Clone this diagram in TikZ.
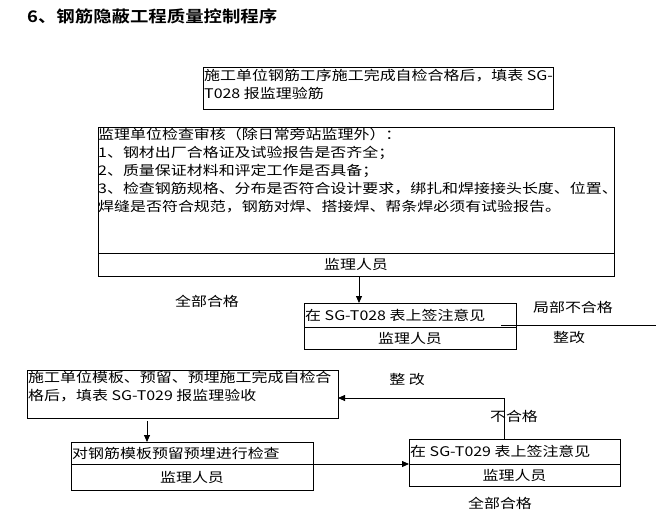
\documentclass[tikz,border=0pt]{standalone}
\usepackage{fontspec}
\setmainfont{Noto Sans CJK SC}[FakeStretch=1.2]
\newfontfamily\titlefont{Noto Sans CJK SC Bold}[FakeStretch=1.15]
\usetikzlibrary{arrows.meta}
\begin{document}
\begin{tikzpicture}[x=1pt,y=-1pt,
  box/.style={draw,line width=0.9pt,anchor=north west,inner sep=0pt,outer sep=0pt},
  txt/.style={anchor=north west,inner sep=0pt,align=left,font=\fontsize{13.3}{18}\selectfont},
  lbl/.style={inner sep=0pt,font=\fontsize{13.3}{18}\selectfont},
  arr/.style={line width=0.8pt,-{Triangle[length=7pt,width=6pt]}},
  ln/.style={line width=0.8pt}]
\useasboundingbox (0,0) rectangle (656,517);
\node[anchor=west,inner sep=0pt,font=\titlefont\fontsize{16}{18}\selectfont] (title) at (27,16) {6、钢筋隐蔽工程质量控制程序};
% box1
\node[box,minimum width=350,minimum height=42] (b1) at (203,67) {};
\node[txt] (b1t) at (204,69) {施工单位钢筋工序施工完成自检合格后，填表 SG-\\T028 报监理验筋};
% box2
\node[box,minimum width=516,minimum height=126] (b2) at (98,127) {};
\node[box,minimum width=516,minimum height=23] (b2b) at (98,253) {};
\node[txt] (b2t) at (98,128) {监理单位检查审核（除日常旁站监理外）：\\1、钢材出厂合格证及试验报告是否齐全；\\2、质量保证材料和评定工作是否具备；\\3、检查钢筋规格、分布是否符合设计要求，绑扎和焊接接头长度、位置、\\焊缝是否符合规范，钢筋对焊、搭接焊、帮条焊必须有试验报告。};
\node[lbl] (b2l) at (b2b.center) {监理人员};
% box3
\node[box,minimum width=212,minimum height=24] (b3) at (304,303) {};
\node[box,minimum width=212,minimum height=22] (b3b) at (304,327) {};
\node[lbl,anchor=west] (b3t) at (305,315) {在 SG-T028 表上签注意见};
\node[lbl] (b3l) at (b3b.center) {监理人员};
\draw[arr] (b2b.south -| 359,0) -- (b3.north -| 359,0);
\node[lbl] (q1) at (207,301) {全部合格};
\node[lbl] (q2) at (573,307) {局部不合格};
\node[lbl] (q3) at (569,337) {整改};
\coordinate (l1) at (501,325);
\coordinate (l2) at (656,325);
\draw[ln] (l1) -- (l2);
% box4
\node[box,minimum width=311,minimum height=48] (b4) at (27,370) {};
\node[txt] (b4t) at (28,371) {施工单位模板、预留、预埋施工完成自检合\\格后，填表 SG-T029 报监理验收};
% box5
\node[box,minimum width=242,minimum height=22] (b5) at (71,442) {};
\node[box,minimum width=242,minimum height=26] (b5b) at (71,464) {};
\node[lbl,anchor=west] (b5t) at (72,453) {对钢筋模板预留预埋进行检查};
\node[lbl] (b5l) at (b5b.center) {监理人员};
% box6
\node[box,minimum width=211,minimum height=25] (b6) at (409,439) {};
\node[box,minimum width=211,minimum height=22] (b6b) at (409,464) {};
\node[lbl,anchor=west] (b6t) at (410,451) {在 SG-T029 表上签注意见};
\node[lbl] (b6l) at (b6b.center) {监理人员};
% arrows
\draw[arr] (b4.south -| 147,0) ++(0,3) -- (b5.north -| 147,0);
\draw[arr] (b5.south east) -- (b6.south west);
\draw[arr] (b6.north -| 504,0) |- (b4.east |- 0,398);
\node[lbl] (q4) at (407,379) {整\ 改};
\node[lbl] (q5) at (514,416) {不合格};
\node[lbl] (q6) at (500,503) {全部合格};
\end{tikzpicture}
\end{document}
